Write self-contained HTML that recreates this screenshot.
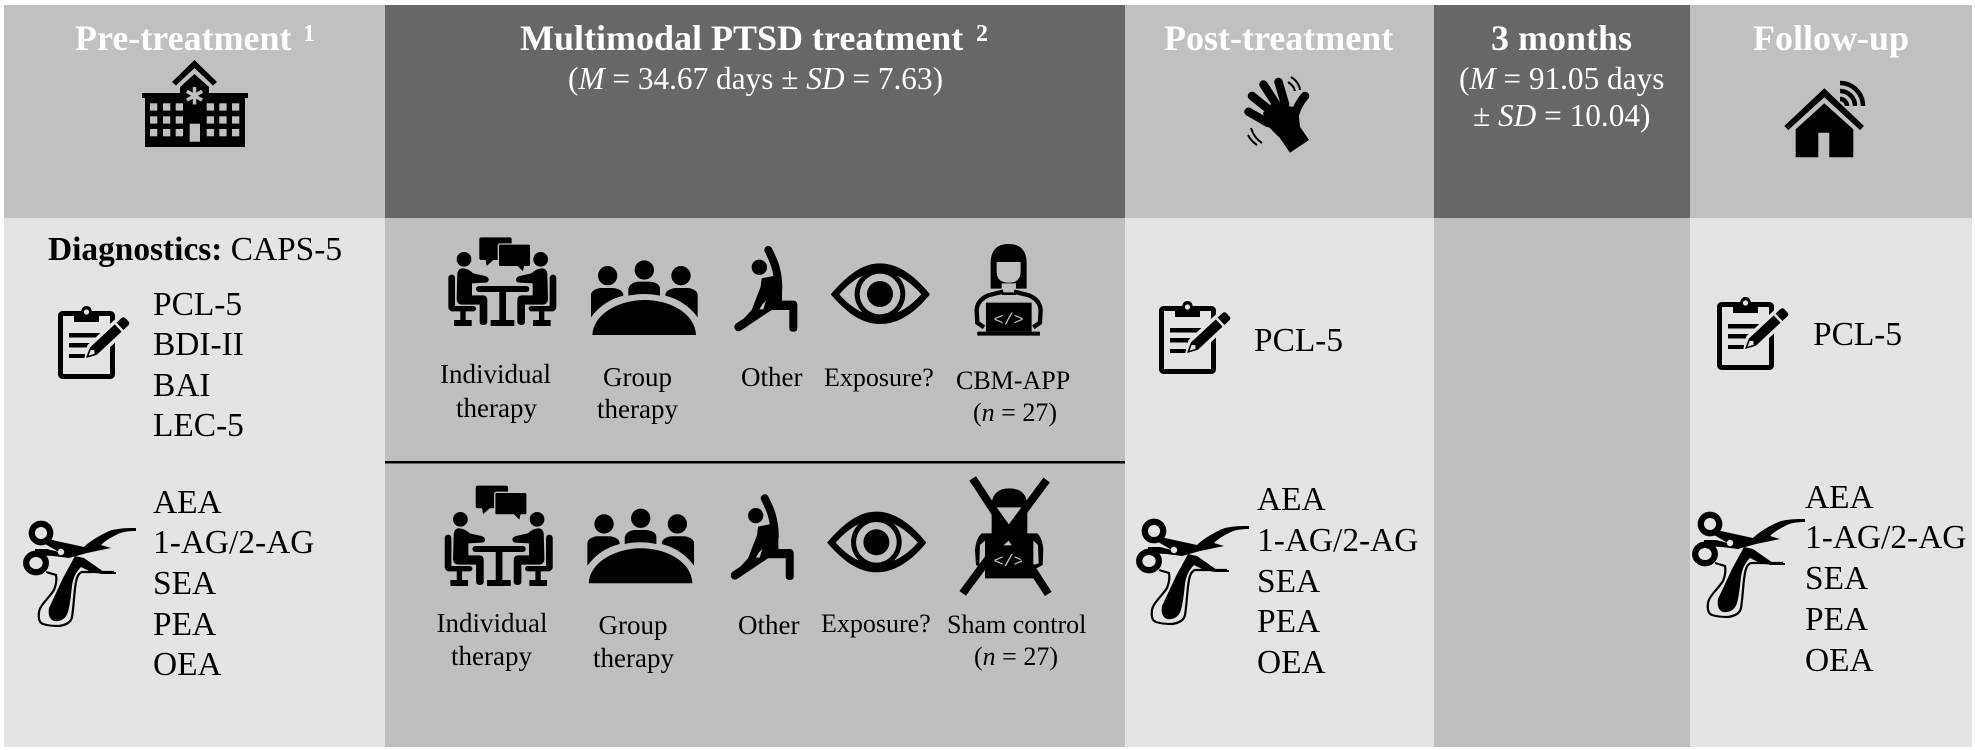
<!DOCTYPE html>
<html><head><meta charset="utf-8"><style>
html,body{margin:0;padding:0;background:#fff}
svg{display:block}
text{font-family:"Liberation Serif",serif;fill:#000}
.h{font-weight:bold;font-size:36px;fill:#fff}
.s{font-size:31.3px;fill:#fff}
.b{font-size:33.4px}
.a{font-size:27px}
.e{font-size:26px}
</style></head><body>
<svg width="1975" height="750" viewBox="0 0 1975 750" xmlns="http://www.w3.org/2000/svg">
<defs>
<g id="cb">
<rect x="2.5" y="7.5" width="52" height="63" rx="2" fill="none" stroke="#000" stroke-width="5"/>
<path d="M16 16V8H23Q23 0 28.5 0Q34 0 34 8H41V16Z" fill="#000"/>
<circle cx="28.5" cy="6" r="2.6" fill="#e4e4e4"/>
<rect x="11" y="27" width="31" height="4.5"/><rect x="11" y="37" width="23" height="4.5"/><rect x="11" y="48" width="16" height="4"/>
<g transform="translate(28,52) rotate(-43)">
<path d="M-3 0L10 -8.5H62V8.5H10Z" fill="#e4e4e4"/>
<path d="M0 0L10 -5H44V5H10Z" fill="#000"/>
<path d="M3.5 0L9 -2.800L11.500 0L9 2.800Z" fill="#e4e4e4"/>
<path d="M46.500 -5H53Q56 -5 56 -2V2Q56 5 53 5H46.500Z" fill="#000"/>
</g>
</g>
<g id="sc">
<circle cx="18" cy="13" r="9.2" fill="none" stroke="#000" stroke-width="6.300"/>
<ellipse cx="13" cy="43" rx="9.800" ry="9.200" fill="none" stroke="#000" stroke-width="6.300"/>
<path d="M24 18L29 20L61 27C66 22 78 14 89 10C98 8 105 8 113 8V11C105 11 98 12 93 15C87 18 82 21 78 25L88 28L64 33L46 38L30 36L12 35V29L24 29L36 32L22 24Z" fill="#000"/>
<path d="M23 52L33 55C34 60 33 65 31 70C26 78 17 85 16 92C15 100 17 103 20 104C26 106 31 106 36 106C43 105 48 102 49 97C51 85 51 72 53 62C54 56 56 53 59 52H91" fill="none" stroke="#000" stroke-width="2.200"/>
<path d="M52 36L61 38L81 52H93V54H79L68 52L58 47C53 52 50 58 49 66C48 75 47 85 45 92C43 99 37 102 31 101C26 99 25 94 26 88L40 58Z" fill="#000"/>
<circle cx="38" cy="32" r="3.200" fill="#e4e4e4"/>
</g>
<g id="pl">
<circle cx="72" cy="88" r="22"/>
<path d="M52 130Q55 114 70 115Q85 116 100 130L135 138Q147 142 146 150Q145 158 135 158L96 160V196H128Q142 196 142 210V275Q142 285 130 285Q119 285 119 275V224H68Q50 224 50 205Z"/>
<path d="M35 144V232" stroke="#000" stroke-width="20" stroke-linecap="round" fill="none"/>
<path d="M36 236H100" stroke="#000" stroke-width="16" stroke-linecap="round" fill="none"/>
<rect x="61" y="240" width="16" height="32"/><rect x="42" y="270" width="53" height="18"/>
</g>
<g id="bub">
<path d="M118 28Q118 22 124 22H209Q215 22 215 28V84Q215 90 209 90H160L140 108L137 90H124Q118 90 118 84Z"/>
<path d="M175 48Q175 42 181 42H266Q272 42 272 48V104Q272 110 266 110H254L250 128L232 110H181Q175 110 175 104Z" stroke="#c0c0c0" stroke-width="4"/>
</g>
<g id="ppl">
<use href="#pl"/>
<use href="#pl" transform="translate(374,0) scale(-1,1)"/>
<rect x="108" y="168" width="160" height="18" rx="9"/>
<rect x="178" y="186" width="20" height="86"/><rect x="152" y="270" width="71" height="18"/>
</g>
<g id="grp">
<circle cx="503" cy="137" r="29"/><circle cx="613" cy="120" r="29"/><circle cx="723" cy="137" r="29"/>
<path d="M453 262V195Q453 180 480 174H520Q550 178 550 197Q490 212 453 262Z"/>
<path d="M773 262V195Q773 180 746 174H706Q676 178 676 197Q736 212 773 262Z"/>
<path d="M565 197V177Q570 157 595 155H630Q660 158 660 177V197Q613 187 565 197Z"/>
<path d="M457 315C460 250 540 210 613 210C690 210 765 250 768 315Z"/>
</g>
<g id="oth">
<circle cx="118" cy="112" r="23"/>
<path d="M145 60C160 90 175 120 175 175" stroke="#000" stroke-width="24" stroke-linecap="round" fill="none"/>
<path d="M125 145L160 138L186 150V212H222Q232 214 232 225V295Q232 305 220 305Q208 305 208 295V240H168L155 240L62 302Q50 308 44 296Q40 285 52 278L72 265L95 240L122 170Z"/>
<path d="M128 222L138 212L130 238L118 238Z" fill="#c0c0c0"/>
</g>
<g id="eye">
<path d="M332 193C390 125 435 100 480 100C525 100 575 125 630 193C575 260 525 282 480 282C435 282 390 260 332 193Z"/>
<path d="M358 193C400 145 440 125 480 125C520 125 562 145 604 193C562 240 520 258 480 258C440 258 400 240 358 193Z" fill="#c0c0c0"/>
<clipPath id="eyc"><path d="M332 193C390 125 435 100 480 100C525 100 575 125 630 193C575 260 525 282 480 282C435 282 390 260 332 193Z"/></clipPath>
<g clip-path="url(#eyc)"><circle cx="480" cy="192" r="76"/><circle cx="480" cy="192" r="61" fill="#c0c0c0"/></g>
<circle cx="480" cy="192" r="39"/>
</g>
<g id="wm">
<path d="M812 176V100Q812 42 866 42Q920 42 920 100V176H888V160H845V176Z"/>
<path d="M830 96H902V125Q902 158 866 158Q830 158 830 125Z" fill="#c0c0c0"/>
<path d="M845 168H888L880 178H853Z" fill="#c0c0c0"/>
<path d="M845 187H888V195H845Z"/>
<path d="M850 185L805 196Q772 210 770 240L772 278L792 292" fill="none" stroke="#000" stroke-width="13"/>
<path d="M882 185L927 196Q960 210 962 240L960 278L940 292" fill="none" stroke="#000" stroke-width="13"/>
<rect x="798" y="218" width="137" height="87"/>
<rect x="772" y="305" width="188" height="12" rx="2"/>
</g>
</defs>

<rect width="1975" height="750" fill="#fff"/>
<rect x="4" y="5" width="381" height="213" fill="#c0c0c0"/>
<rect x="385" y="5" width="740" height="213" fill="#676767"/>
<rect x="1125" y="5" width="309" height="213" fill="#c0c0c0"/>
<rect x="1434" y="5" width="256" height="213" fill="#676767"/>
<rect x="1690" y="5" width="282" height="213" fill="#c0c0c0"/>
<rect x="4" y="218" width="381" height="529" fill="#e4e4e4"/>
<rect x="385" y="218" width="740" height="529" fill="#bfbfbf"/>
<rect x="1125" y="218" width="309" height="529" fill="#e4e4e4"/>
<rect x="1434" y="218" width="256" height="529" fill="#bfbfbf"/>
<rect x="1690" y="218" width="282" height="529" fill="#e4e4e4"/>
<rect x="385" y="461" width="740" height="2.5" fill="#000"/>

<!-- headers -->
<text class="h" x="75" y="50">Pre-treatment</text>
<text x="303" y="41" style="font-size:24px;font-weight:bold;fill:#fff">1</text>
<text class="h" x="520" y="50">Multimodal PTSD treatment</text>
<text x="976" y="41" style="font-size:24px;font-weight:bold;fill:#fff">2</text>
<text class="s" x="568" y="89">(<tspan font-style="italic" style="fill:#fff">M</tspan> = 34.67 days ± <tspan font-style="italic" style="fill:#fff">SD</tspan> = 7.63)</text>
<text class="h" x="1164" y="50">Post-treatment</text>
<text class="h" x="1491" y="50">3 months</text>
<text class="s" x="1459" y="89">(<tspan font-style="italic" style="fill:#fff">M</tspan> = 91.05 days</text>
<text class="s" x="1473" y="126">± <tspan font-style="italic" style="fill:#fff">SD</tspan> = 10.04)</text>
<text class="h" x="1753" y="50">Follow-up</text>

<!-- hospital -->
<g>
<path d="M194.5 60L217 82L213 85.500L194.500 68L176 85.500L172 82Z"/>
<path d="M194.500 74L209 87V93H248V98H245V147H145V98H142V93H180V87Z"/>
<g fill="#c0c0c0">
<rect x="150" y="103.300" width="7.300" height="7.300"/><rect x="163" y="103.300" width="7.300" height="7.300"/><rect x="175.700" y="103.300" width="7.300" height="7.300"/>
<rect x="206.700" y="103.300" width="7.300" height="7.300"/><rect x="219.300" y="103.300" width="7.300" height="7.300"/><rect x="232" y="103.300" width="7.300" height="7.300"/>
<rect x="150" y="116.300" width="7.300" height="7.300"/><rect x="163" y="116.300" width="7.300" height="7.300"/><rect x="175.700" y="116.300" width="7.300" height="7.300"/>
<rect x="206.700" y="116.300" width="7.300" height="7.300"/><rect x="219.300" y="116.300" width="7.300" height="7.300"/><rect x="232" y="116.300" width="7.300" height="7.300"/>
<rect x="150" y="129" width="7.300" height="7.300"/><rect x="163" y="129" width="7.300" height="7.300"/><rect x="175.700" y="129" width="7.300" height="7.300"/>
<rect x="206.700" y="129" width="7.300" height="7.300"/><rect x="219.300" y="129" width="7.300" height="7.300"/><rect x="232" y="129" width="7.300" height="7.300"/>
<rect x="189.700" y="123.700" width="10.300" height="18"/>
</g>
<g stroke="#c0c0c0" stroke-width="3.500"><path d="M194.500 87V104.500M186.900 91.300L202.100 100.100M186.900 100.100L202.100 91.300"/></g>
</g>

<!-- hand -->
<g stroke="#000" stroke-width="8.500" stroke-linecap="round" fill="none">
<path d="M1252 96L1272 112M1263.500 84.500L1278 107M1278.500 82L1285 104M1305 96Q1298 104 1295 114M1248.500 111.700L1268 123"/>
</g>
<path d="M1263 113L1272 103L1292 106.700L1298 107L1300 126.700L1309 140L1290 152.700L1280 138.300L1266.700 125Z"/>
<g fill="none" stroke="#000" stroke-width="2"><path d="M1291 77Q1299 82 1300 90M1288 82Q1294 86 1295 91M1251 128Q1254 138 1262 143M1248 135Q1251 141 1257 145"/></g>

<!-- house -->
<path d="M1824.300 88.300L1864 126L1860 130L1824.300 97.300L1788.300 130L1784.300 126Z"/>
<path d="M1824.300 103.300L1853.300 129.300V157.300H1829.300V132.700H1818.300V157.300H1795.700V129.300Z"/>
<g fill="none" stroke="#000" stroke-width="4.500">
<path d="M1840 83A23 23 0 0 1 1863 106M1840 91A15 15 0 0 1 1855 106M1840 99A7 7 0 0 1 1847 106"/>
</g>

<!-- pre-treatment body -->
<text class="b" x="48" y="260"><tspan font-weight="bold">Diagnostics:</tspan> CAPS-5</text>
<use href="#cb" transform="translate(58,306)"/>
<text class="b" x="153" y="315">PCL-5</text>
<text class="b" x="153" y="355">BDI-II</text>
<text class="b" x="153" y="396">BAI</text>
<text class="b" x="153" y="436">LEC-5</text>
<use href="#sc" transform="translate(23,520)"/>
<text class="b" x="153" y="513">AEA</text>
<text class="b" x="153" y="553">1-AG/2-AG</text>
<text class="b" x="153" y="594">SEA</text>
<text class="b" x="153" y="635">PEA</text>
<text class="b" x="153" y="675">OEA</text>

<!-- upper arm icons -->
<g transform="translate(440,230) scale(.3333)"><use href="#bub"/><use href="#ppl"/><use href="#grp"/></g>
<g transform="translate(720,230) scale(.3333)"><use href="#oth"/><use href="#eye"/><use href="#wm"/>
<text x="866" y="283" text-anchor="middle" style="font-family:'Liberation Mono',monospace;font-size:50px;fill:#c0c0c0">&lt;/&gt;</text></g>

<text class="a" x="440" y="383">Individual</text>
<text class="a" x="456" y="417">therapy</text>
<text class="a" x="603" y="386">Group</text>
<text class="a" x="597" y="418">therapy</text>
<text class="a" x="741" y="386">Other</text>
<text class="e" x="824" y="386">Exposure?</text>
<text class="e" x="956" y="389">CBM-APP</text>
<text class="e" x="973" y="421">(<tspan font-style="italic">n</tspan> = 27)</text>

<!-- lower arm icons -->
<g transform="translate(436.400,478.300) scale(.3333)"><use href="#bub"/><use href="#grp"/></g>
<g transform="translate(436.400,490) scale(.3333)"><use href="#ppl"/></g>
<g transform="translate(716.400,478.300) scale(.3333)"><use href="#oth"/><use href="#eye"/></g>

<g transform="translate(950,470) scale(.3333)">
<path d="M125 100Q130 55 178 55Q226 55 232 100V190H262Q278 205 280 240L278 285L250 300V325H105V300L78 285L75 240Q78 205 95 190H125Z"/>
<path d="M140 112H215L178 165Z" fill="#c0c0c0"/>
<path d="M176 212L160 226H192Z" fill="#c0c0c0"/>
<path d="M90 225L105 212V285L88 280ZM264 225L250 212V285L266 280Z" fill="#c0c0c0"/>
<text x="176" y="288" text-anchor="middle" style="font-family:'Liberation Mono',monospace;font-size:50px;fill:#c0c0c0">&lt;/&gt;</text>
<path d="M68 25L295 372M290 30L38 370" stroke="#000" stroke-width="24" fill="none"/>
</g>

<text class="a" x="436.500" y="632">Individual</text>
<text class="a" x="451" y="665">therapy</text>
<text class="a" x="598.500" y="634">Group</text>
<text class="a" x="593" y="667">therapy</text>
<text class="a" x="738" y="634">Other</text>
<text class="e" x="821" y="632">Exposure?</text>
<text class="e" x="947" y="633">Sham control</text>
<text class="e" x="974" y="665">(<tspan font-style="italic">n</tspan> = 27)</text>

<!-- post-treatment body -->
<use href="#cb" transform="translate(1159,301)"/>
<text class="b" x="1254" y="351">PCL-5</text>
<use href="#sc" transform="translate(1136,518)"/>
<text class="b" x="1257" y="510">AEA</text>
<text class="b" x="1257" y="551">1-AG/2-AG</text>
<text class="b" x="1257" y="592">SEA</text>
<text class="b" x="1257" y="632">PEA</text>
<text class="b" x="1257" y="673">OEA</text>

<!-- follow-up body -->
<use href="#cb" transform="translate(1717,297)"/>
<text class="b" x="1813" y="345">PCL-5</text>
<use href="#sc" transform="translate(1692,511)"/>
<text class="b" x="1805" y="508">AEA</text>
<text class="b" x="1805" y="548">1-AG/2-AG</text>
<text class="b" x="1805" y="589">SEA</text>
<text class="b" x="1805" y="630">PEA</text>
<text class="b" x="1805" y="671">OEA</text>
</svg>
</body></html>
